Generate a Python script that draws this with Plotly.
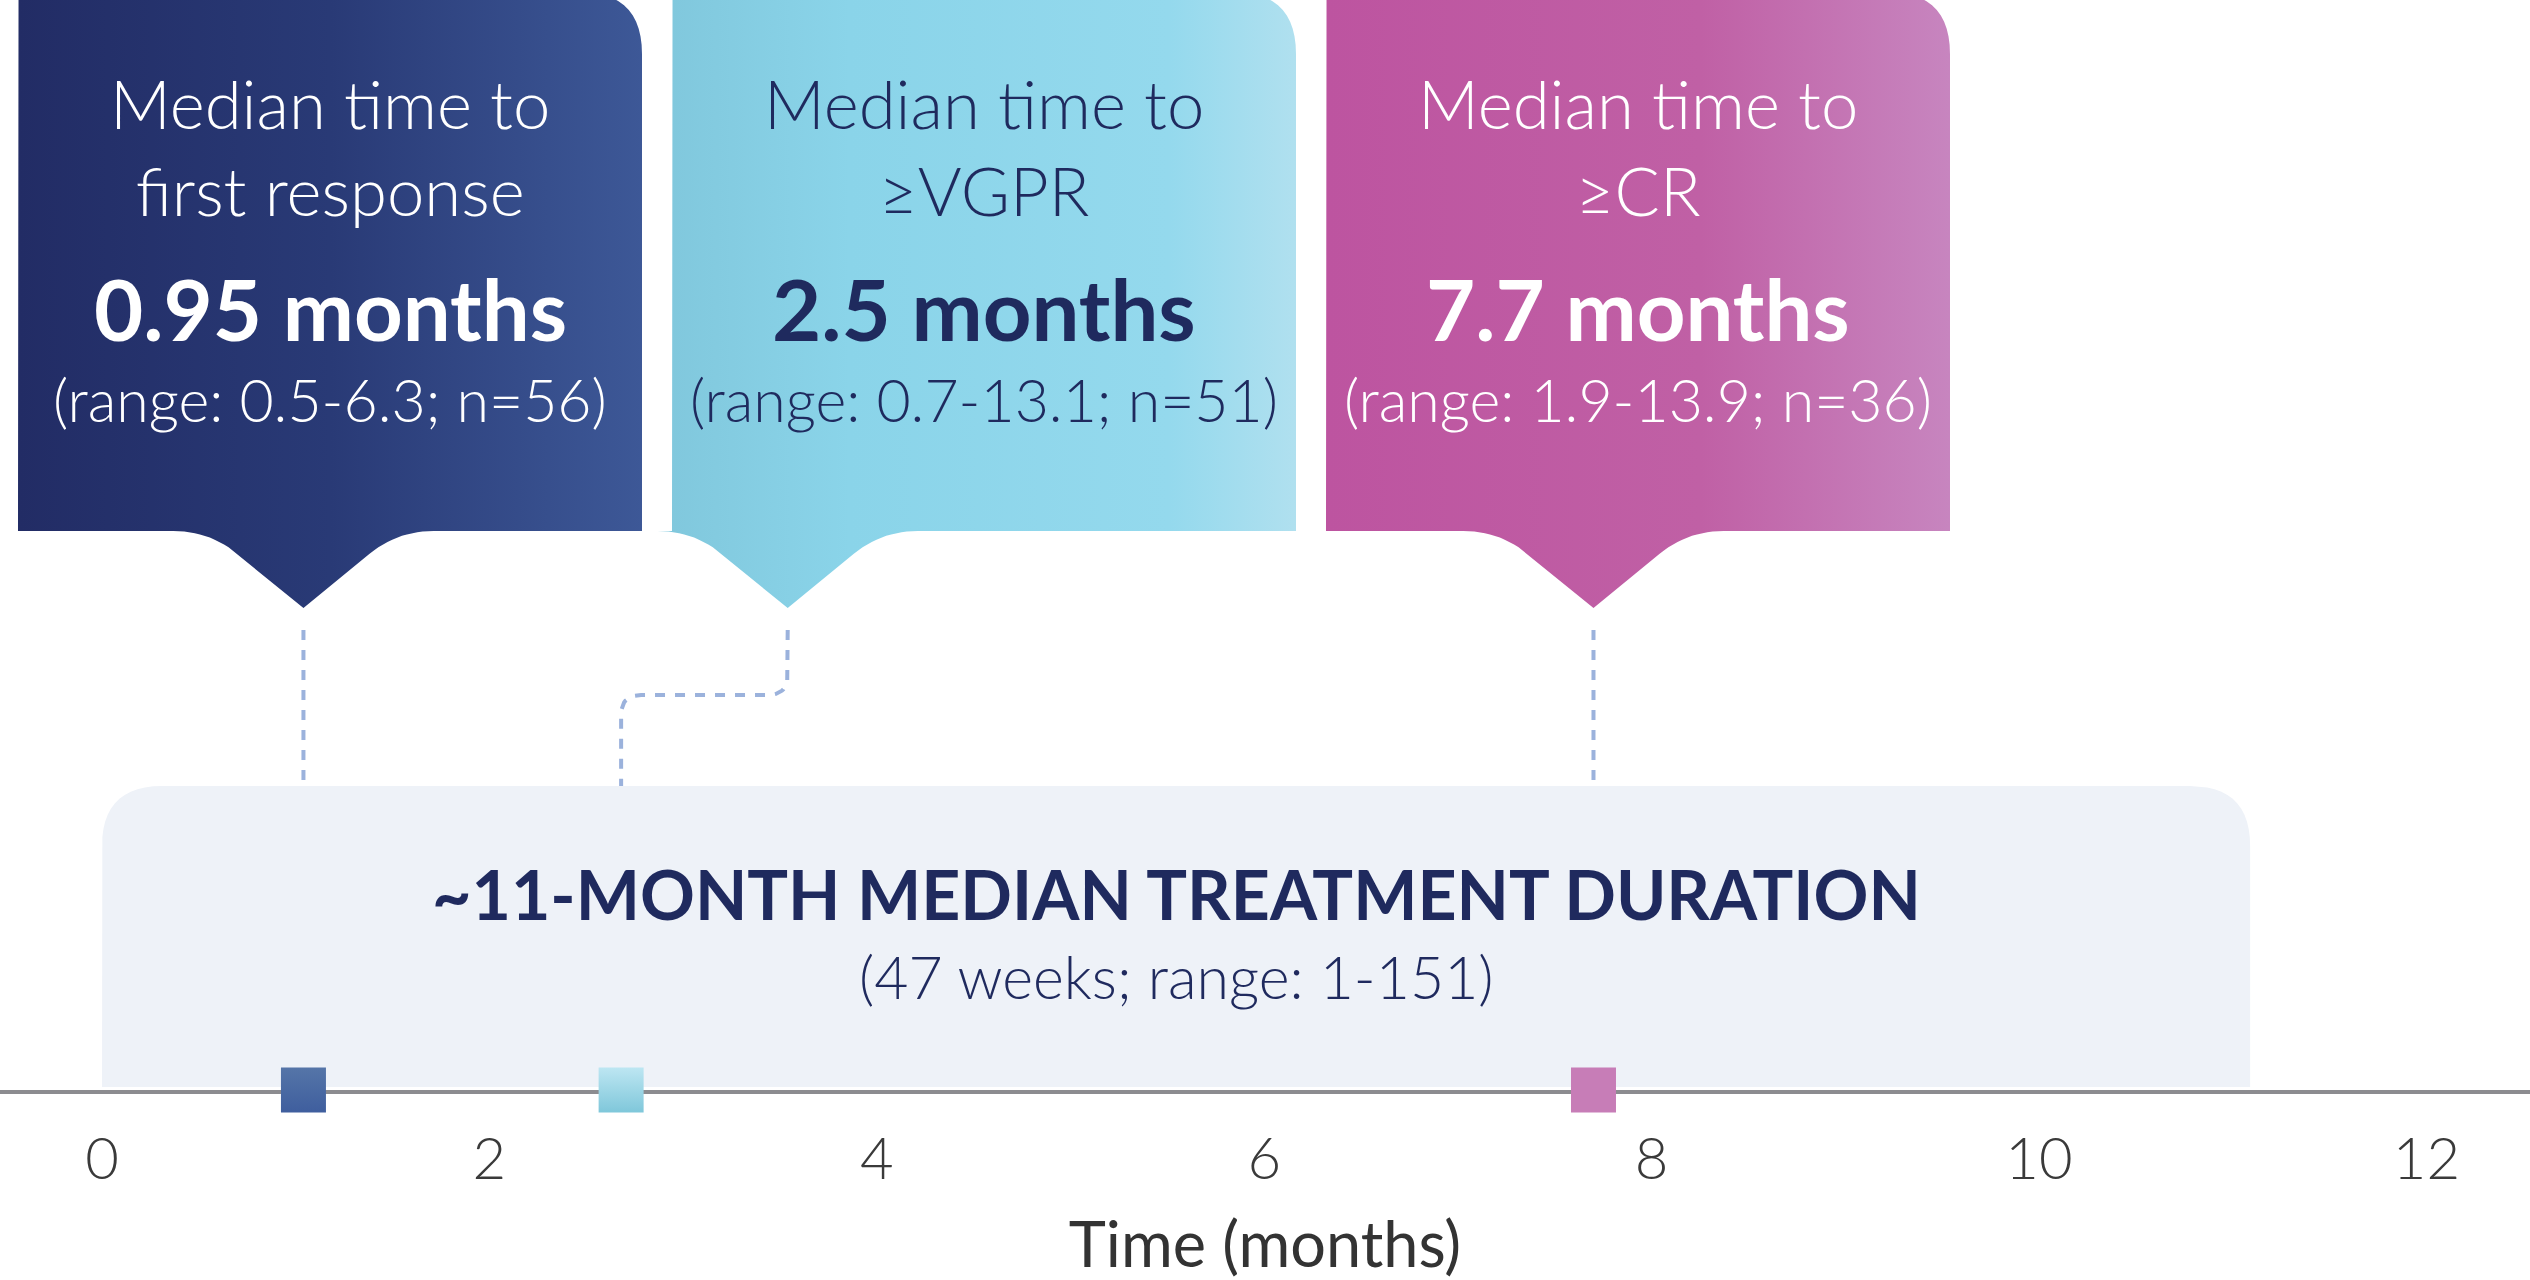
import numpy as np
import plotly.graph_objects as go

# ---- values ----
callout_heads = ["Median time to<br>first response", "Median time to<br>≥VGPR", "Median time to<br>≥CR"]
callout_values = ["0.95 months", "2.5 months", "7.7 months"]
callout_ranges = ["(range: 0.5-6.3; n=56)", "(range: 0.7-13.1; n=51)", "(range: 1.9-13.9; n=36)"]
marker_months = [1.04, 2.68, 7.7]      # squares on the time axis
pointer_months = [1.04, 3.54, 7.7]     # where each callout's pointer ends
treatment_span = [0, 11.09]
treatment_title = "~11-MONTH MEDIAN TREATMENT DURATION"
treatment_note = "(47 weeks; range: 1-151)"
tick_values = [0, 2, 4, 6, 8, 10, 12]
tick_labels = ["0", "2", "4", "6", "8", "10", "12"]

# ---- layout in pixels ----
W, H = 2530, 1280
AXIS_PX = 1090        # axis line, px from top
ORIGIN_PX = 102       # x pixel of month 0
PX_PER_MONTH = 193.7

NAVY = "#1f2a5e"
box_lefts = [18, 672, 1326]
box_width = 624
box_text_colors = ["white", NAVY, "white"]
box_scales = [
    [[0, "#222c65"], [0.5, "#293a76"], [1, "#3d5897"]],
    [[0, "#80c7dc"], [0.3, "#8ad4e9"], [0.8, "#94d9ed"], [1, "#b0e0ef"]],
    [[0, "#bd54a0"], [0.6, "#c060a5"], [1, "#c785bf"]],
]
marker_colors = ["#5575a8", "#bde6f2", "#c77db7"]
marker_grad = ["#3f5e9e", "#7fc7da", "#c77db7"]


def mx(px):
    return (px - ORIGIN_PX) / PX_PER_MONTH


def pm(m):
    return ORIGIN_PX + m * PX_PER_MONTH


def yy(px):
    return AXIS_PX - px


def qbez(p0, p1, p2, n=14):
    t = np.linspace(0, 1, n)[:, None]
    p0, p1, p2 = map(np.array, (p0, p1, p2))
    return list((1 - t) ** 2 * p0 + 2 * (1 - t) * t * p1 + t ** 2 * p2)


def callout_path(left, width, tip_px):
    L, R, T, B = left, left + width, -8, 531
    r1, r2 = 10, 62
    tip_y, h, f = 608, 94, 36
    ux, uy = 0.774, 0.634
    pts = [(L, B)]
    pts += qbez((L, T + r1), (L, T), (L + r1, T))
    pts += qbez((R - r2, T), (R, T), (R, T + r2))
    pts.append((R, B))
    pts += qbez((tip_px + h + f, B), (tip_px + h, B), (tip_px + h - ux * f, B + uy * f))
    pts.append((tip_px, tip_y))
    pts += qbez((tip_px - h + ux * f, B + uy * f), (tip_px - h, B), (tip_px - h - f, B))
    pts.append((L, B))
    xs = [mx(p[0]) for p in pts]
    ys = [yy(p[1]) for p in pts]
    return xs, ys


fig = go.Figure()

# treatment duration panel
x0, x1 = pm(treatment_span[0]), pm(treatment_span[1])
top, bot, r = 786, AXIS_PX - 3, 60
pts = [(x0, bot)]
pts += qbez((x0, top + r), (x0, top), (x0 + r, top))
pts += qbez((x1 - r, top), (x1, top), (x1, top + r))
pts.append((x1, bot))
pts.append((x0, bot))
fig.add_trace(go.Scatter(
    x=[mx(p[0]) for p in pts], y=[yy(p[1]) for p in pts],
    fill="toself", fillcolor="#eef2f8", mode="lines", line=dict(width=0),
    hoverinfo="skip", showlegend=False))

# dashed connectors
dash_style = dict(color="#9bb2dc", width=4, dash="10px,10px")
for i in range(3):
    xa, xb = pm(pointer_months[i]), pm(marker_months[i])
    if abs(xa - xb) < 1:
        pts = [(xa, 630), (xa, 786)]
    else:
        rr = 20
        hy = 695
        pts = [(xa, 630), (xa, hy - rr)]
        pts += qbez((xa, hy - rr), (xa, hy), (xa - rr, hy))
        pts += qbez((xb + rr, hy), (xb, hy), (xb, hy + rr))
        pts.append((xb, 786))
    fig.add_trace(go.Scatter(
        x=[mx(p[0]) for p in pts], y=[yy(p[1]) for p in pts],
        mode="lines", line=dash_style, hoverinfo="skip", showlegend=False))

# callout boxes
for i in range(3):
    xs, ys = callout_path(box_lefts[i], box_width, pm(pointer_months[i]))
    fig.add_trace(go.Scatter(
        x=xs, y=ys, fill="toself", mode="lines", line=dict(width=0),
        fillgradient=dict(type="horizontal", colorscale=box_scales[i]),
        hoverinfo="skip", showlegend=False))
    cx = mx(box_lefts[i] + box_width / 2)
    col = box_text_colors[i]
    fig.add_annotation(x=cx, y=yy(146), text=callout_heads[i], showarrow=False,
                       font=dict(family="Lato", size=67, color=col, weight=300))
    fig.add_annotation(x=cx, y=yy(308), text=f"<b>{callout_values[i]}</b>", showarrow=False,
                       font=dict(family="Lato", size=85, color=col))
    fig.add_annotation(x=cx, y=yy(399), text=callout_ranges[i], showarrow=False,
                       font=dict(family="Lato", size=59, color=col, weight=300))

# markers on the axis
fig.add_trace(go.Scatter(
    x=marker_months, y=[0] * len(marker_months), mode="markers",
    marker=dict(symbol="square", size=45, color=marker_colors,
                gradient=dict(type="vertical", color=marker_grad),
                line=dict(width=0)),
    hoverinfo="skip", showlegend=False, cliponaxis=False))

# treatment text
tc = (treatment_span[0] + treatment_span[1]) / 2
fig.add_annotation(x=tc, y=yy(893), text=f"<b>{treatment_title}</b>", showarrow=False,
                   font=dict(family="Lato", size=68, color=NAVY))
fig.add_annotation(x=tc, y=yy(976), text=treatment_note, showarrow=False,
                   font=dict(family="Lato", size=59, color=NAVY, weight=300))

fig.update_layout(
    width=W, height=H,
    margin=dict(l=0, r=0, t=0, b=H - AXIS_PX),
    paper_bgcolor="white", plot_bgcolor="white",
    showlegend=False,
    xaxis=dict(
        range=[mx(0), mx(W)], tickvals=tick_values, ticktext=tick_labels,
        showgrid=False, zeroline=False, showline=True, linecolor="#8c8c90",
        linewidth=4, layer="below traces", ticks="", ticklabelstandoff=15,
        tickfont=dict(family="Lato", size=58, color="#3a3a3a", weight=300),
        title=dict(text="Time (months)", standoff=44,
                   font=dict(family="Lato", size=63, color="#333333")),
        fixedrange=True,
    ),
    yaxis=dict(range=[0, AXIS_PX], visible=False, fixedrange=True),
)

fig.write_html("out.html", config={"displayModeBar": False},
               post_script="document.body.style.margin='0px';")
